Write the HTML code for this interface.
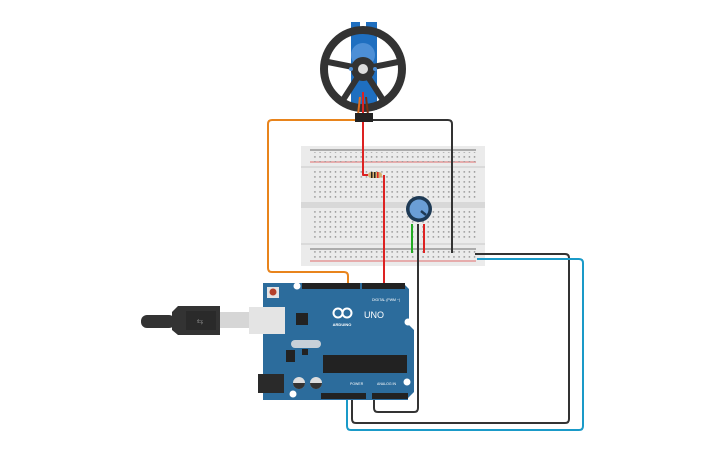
<!DOCTYPE html>
<html><head><style>html,body{margin:0;padding:0;background:#fff}svg{display:block}</style></head>
<body>
<svg width="725" height="453" viewBox="0 0 725 453" xmlns="http://www.w3.org/2000/svg" font-family="Liberation Sans, sans-serif">
<defs>
<pattern id="h" x="313" y="0" width="5.15" height="5" patternUnits="userSpaceOnUse"><rect x="1.2" y="1.2" width="1.4" height="1.4" fill="#8a8a8a"/></pattern>
</defs>
<!-- breadboard -->
<rect x="301" y="146" width="184" height="120" fill="#ebebeb"/>
<rect x="301" y="166" width="184" height="2" fill="#dadada"/>
<rect x="301" y="202" width="184" height="6" fill="#d8d8d8"/>
<rect x="301" y="243" width="184" height="2" fill="#dadada"/>
<line x1="310" y1="150" x2="476" y2="150" stroke="#444" stroke-width="0.7"/>
<line x1="310" y1="162" x2="476" y2="162" stroke="#d44" stroke-width="0.7"/>
<line x1="310" y1="249" x2="476" y2="249" stroke="#444" stroke-width="0.7"/>
<line x1="310" y1="261" x2="476" y2="261" stroke="#d44" stroke-width="0.7"/>
<rect x="312" y="152" width="166" height="10" fill="url(#h)"/>
<rect x="312" y="170" width="166" height="30" fill="url(#h)"/>
<rect x="312" y="210" width="166" height="30" fill="url(#h)"/>
<rect x="312" y="251" width="166" height="10" fill="url(#h)"/>
<!-- servo -->
<rect x="351" y="22" width="26" height="88" fill="#1f6fc0"/>
<rect x="360" y="22" width="6" height="6" fill="#fff"/>
<circle cx="363" cy="55" r="12" fill="#4d8fd6"/>
<circle cx="363" cy="69" r="39" fill="none" stroke="#333" stroke-width="8"/>
<g stroke="#333" stroke-width="6" stroke-linecap="round">
<line x1="363" y1="69" x2="328" y2="62"/><line x1="363" y1="69" x2="398" y2="62"/>
<line x1="363" y1="69" x2="343" y2="100"/><line x1="363" y1="69" x2="383" y2="100"/></g>
<circle cx="363" cy="69" r="12" fill="#333"/>
<circle cx="363" cy="69" r="5" fill="#ddd"/>
<circle cx="351" cy="69" r="2" fill="#4d8fd6"/><circle cx="375" cy="69" r="2" fill="#4d8fd6"/>
<line x1="360" y1="97" x2="358" y2="115" stroke="#e07020" stroke-width="2"/>
<line x1="363" y1="92" x2="363" y2="115" stroke="#d22" stroke-width="2"/>
<line x1="366" y1="97" x2="368" y2="115" stroke="#7a3010" stroke-width="2"/>
<rect x="355" y="113" width="18" height="9" fill="#222"/>
<!-- wires -->
<g fill="none" stroke-width="2" stroke-linejoin="round">
<path d="M355 120 H272 Q268 120 268 124 V268 Q268 272 272 272 H344 Q348 272 348 276 V290" stroke="#e8841c"/>
<path d="M373 120 H448 Q452 120 452 124 V253" stroke="#333"/>
<path d="M363 122 V175 H368" stroke="#d22"/>
<path d="M384 175 V290" stroke="#d22"/>
<path d="M412 224 V253" stroke="#2a2"/>
<path d="M424 224 V253" stroke="#d22"/>
<path d="M418 224 V408 Q418 412 414 412 H378 Q374 412 374 408 V392" stroke="#333"/>
<path d="M475 254 H565 Q569 254 569 258 V419 Q569 423 565 423 H356 Q352 423 352 419 V392" stroke="#333"/>
<path d="M477 259 H579 Q583 259 583 263 V426 Q583 430 579 430 H351 Q347 430 347 426 V392" stroke="#1a9ac8"/>
</g>
<!-- resistor -->
<rect x="368" y="172" width="14" height="6" rx="3" fill="#d6b070"/>
<rect x="371" y="172" width="1.5" height="6" fill="#222"/><rect x="374" y="172" width="1.5" height="6" fill="#222"/><rect x="377" y="172" width="1.5" height="6" fill="#d22"/>
<!-- pot -->
<circle cx="419" cy="209" r="13" fill="#1e3a55"/>
<circle cx="419" cy="209" r="9.5" fill="#6a9ed6"/>
<line x1="421" y1="211" x2="426" y2="215" stroke="#1e3a55" stroke-width="2.5"/>
<!-- USB cable -->
<rect x="141" y="315" width="34" height="13" rx="6" fill="#333"/>
<path d="M172 312 L178 306 H220 V335 H178 L172 330 Z" fill="#333"/>
<rect x="186" y="311" width="30" height="19" fill="#2a2a2a"/>
<text x="200" y="324" font-size="8" fill="#777" text-anchor="middle">⇆</text>
<rect x="220" y="312" width="29" height="16" fill="#d6d6d6"/>
<!-- arduino -->
<path d="M263 283 H403 L409 289 V325 L414 330 V392 L408 398 V400 H263 Z" fill="#2c6c9c"/>
<rect x="249" y="307" width="36" height="27" fill="#e4e4e4"/>
<rect x="258" y="374" width="26" height="19" fill="#2a2a2a"/>
<rect x="267" y="287" width="12" height="11" fill="#e4e4e4"/><circle cx="273" cy="292" r="3.5" fill="#b4402a"/>
<circle cx="297" cy="286" r="3.5" fill="#fff"/><circle cx="408" cy="322" r="3.5" fill="#fff"/><circle cx="407" cy="382" r="3.5" fill="#fff"/><circle cx="293" cy="394" r="3.5" fill="#fff"/>
<rect x="302" y="283" width="58" height="6" fill="#222"/>
<rect x="362" y="283" width="43" height="6" fill="#222"/>
<rect x="321" y="393" width="45" height="6" fill="#222"/>
<rect x="372" y="393" width="36" height="6" fill="#222"/>
<rect x="323" y="355" width="84" height="18" fill="#222"/>
<rect x="296" y="313" width="12" height="12" fill="#222"/>
<rect x="302" y="349" width="6" height="6" fill="#222"/>
<rect x="286" y="350" width="9" height="12" fill="#222"/>
<rect x="291" y="340" width="30" height="8" rx="4" fill="#c8d0d8"/>
<circle cx="299" cy="383" r="6" fill="#ddd"/><circle cx="316" cy="383" r="6" fill="#ddd"/>
<path d="M293 383 A6 6 0 0 0 305 383Z M310 383 A6 6 0 0 0 322 383Z" fill="#333"/>
<g fill="none" stroke="#fff" stroke-width="2"><circle cx="338" cy="313" r="4.5"/><circle cx="347" cy="313" r="4.5"/></g>
<text x="342" y="326" font-size="4" fill="#fff" text-anchor="middle" font-weight="bold">ARDUINO</text>
<text x="364" y="318" font-size="9" fill="#fff">UNO</text>
<text x="372" y="301" font-size="3.5" fill="#fff">DIGITAL (PWM ~)</text>
<text x="350" y="385" font-size="3.5" fill="#fff">POWER</text>
<text x="377" y="385" font-size="3.5" fill="#fff">ANALOG IN</text>
</svg>
</body></html>
